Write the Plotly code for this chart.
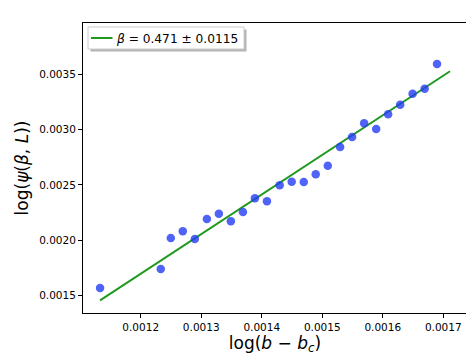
import plotly.graph_objects as go

# Data
x_vals = [0.0011328, 0.0012331, 0.0012497, 0.0012695, 0.0012894, 0.0013093,
          0.0013291, 0.0013490, 0.0013689, 0.0013887, 0.0014086, 0.0014296,
          0.0014495, 0.0014694, 0.0014892, 0.0015091, 0.0015295, 0.0015493,
          0.0015692, 0.0015891, 0.0016089, 0.0016288, 0.0016493, 0.0016692,
          0.0016896]
y_vals = [0.0015695, 0.0017410, 0.0020208, 0.0020812, 0.0020117, 0.0021922,
          0.0022400, 0.0021715, 0.0022554, 0.0023791, 0.0023520, 0.0024964,
          0.0025289, 0.0025262, 0.0025957, 0.0026733, 0.0028420, 0.0029323,
          0.0030560, 0.0030045, 0.0031372, 0.0032238, 0.0033231, 0.0033682,
          0.0035912]
fit_x = [0.0011328, 0.0017111]
fit_y = [0.0014585, 0.0035253]
fit_label = "<i>β</i> = 0.471 ± 0.0115"
x_ticks = [0.0012, 0.0013, 0.0014, 0.0015, 0.0016, 0.0017]
y_ticks = [0.0015, 0.0020, 0.0025, 0.0030, 0.0035]

W, H = 474, 355
ML, MR, MT, MB = 75, 15, 15, 50
PW, PH = W - ML - MR, H - MT - MB


def px(xp):
    return (xp - ML) / PW


def py(yp):
    return (H - MB - yp) / PH


green = "#1f9a1f"
fig = go.Figure()
fig.add_trace(go.Scatter(
    x=fit_x, y=fit_y, mode="lines", name=fit_label,
    line=dict(color=green, width=2), showlegend=False))
fig.add_trace(go.Scatter(
    x=x_vals, y=y_vals, mode="markers", showlegend=False, name="data",
    marker=dict(size=8.5, color="rgba(35,60,245,0.8)",
                line=dict(width=0))))

font = "DejaVu Sans, sans-serif"
axis_common = dict(showline=True, linecolor="black", linewidth=1, mirror=True,
                   ticks="outside", ticklen=4, tickwidth=1, tickcolor="black",
                   showgrid=False, zeroline=False,
                   tickfont=dict(family=font, size=10.5, color="black"))

# legend box (drawn to match the compact, shadowed legend of the reference)
shapes = [
    dict(type="rect", xref="paper", yref="paper", layer="above",
         x0=px(82.5), x1=px(238.5), y0=py(43.5), y1=py(21.5),
         fillcolor="#b4b4b4", line=dict(width=0)),
    dict(type="rect", xref="paper", yref="paper", layer="above",
         x0=px(80), x1=px(236), y0=py(41), y1=py(19),
         fillcolor="white", line=dict(color="#cccccc", width=1)),
    dict(type="line", xref="paper", yref="paper", layer="above",
         x0=px(83), x1=px(104.5), y0=py(30), y1=py(30),
         line=dict(color=green, width=2)),
]
annotations = [
    dict(xref="paper", yref="paper", x=px(107), y=py(30.5),
         xanchor="left", yanchor="middle", showarrow=False, borderpad=0,
         text=fit_label, font=dict(family=font, size=12.2, color="black")),
]

fig.update_layout(
    width=W, height=H,
    margin=dict(l=ML, r=MR, t=MT, b=MB),
    paper_bgcolor="white", plot_bgcolor="white",
    font=dict(family=font, color="black"),
    showlegend=False,
    shapes=shapes, annotations=annotations,
    xaxis=dict(range=[0.0011046, 0.0017392], tickvals=x_ticks,
               ticktext=[f"{v:.4f}" for v in x_ticks],
               title=dict(text="log(<i>b</i> − <i>b</i><sub><i>c</i></sub>)",
                          font=dict(family=font, size=17), standoff=2),
               **axis_common),
    yaxis=dict(range=[0.001344, 0.003961], tickvals=y_ticks,
               ticktext=[f"{v:.4f}" for v in y_ticks],
               title=dict(text="log(<i>ψ</i>(<i>β</i>, <i>L</i>))",
                          font=dict(family=font, size=17), standoff=6),
               **axis_common),
)
fig.write_html("out.html")
